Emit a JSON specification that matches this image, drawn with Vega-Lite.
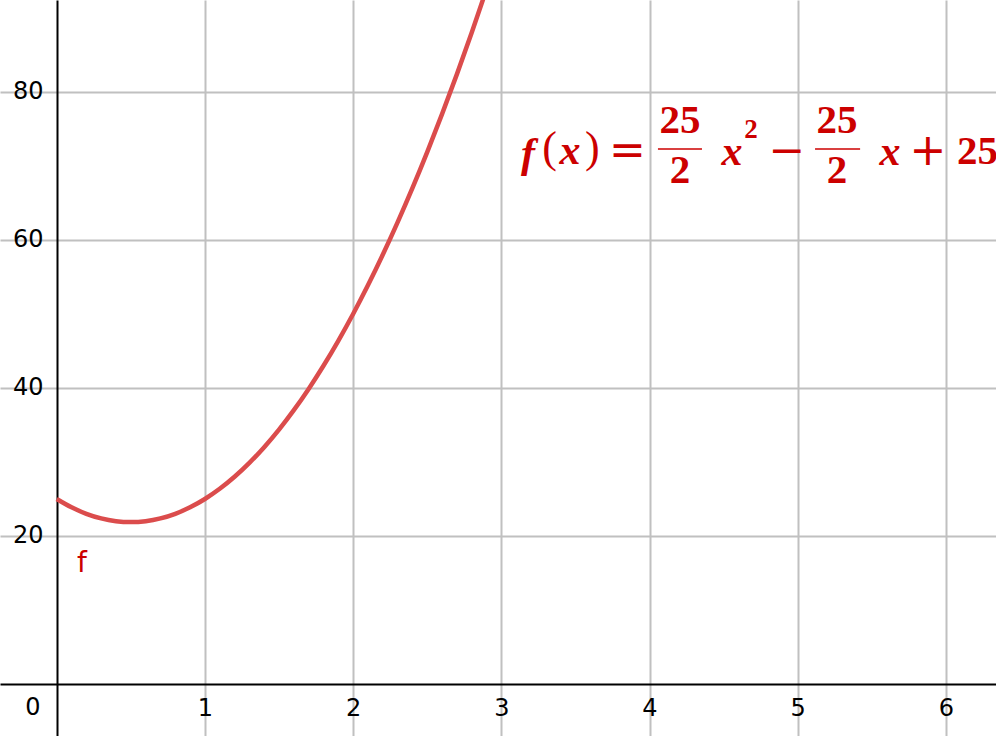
{
  "$schema": "https://vega.github.io/schema/vega-lite/v6.json",
  "width": 996,
  "height": 736,
  "autosize": {"type": "none"},
  "padding": 0,
  "background": "white",
  "config": {"view": {"stroke": null}},
  "datasets": {
    "curve": [
      {"x": 0.0, "y": 25}, {"x": 0.1, "y": 23.875}, {"x": 0.2, "y": 23}, {"x": 0.3, "y": 22.375},
      {"x": 0.4, "y": 22}, {"x": 0.5, "y": 21.875}, {"x": 0.6, "y": 22}, {"x": 0.7, "y": 22.375},
      {"x": 0.8, "y": 23}, {"x": 0.9, "y": 23.875}, {"x": 1.0, "y": 25}, {"x": 1.1, "y": 26.375},
      {"x": 1.2, "y": 28}, {"x": 1.3, "y": 29.875}, {"x": 1.4, "y": 32}, {"x": 1.5, "y": 34.375},
      {"x": 1.6, "y": 37}, {"x": 1.7, "y": 39.875}, {"x": 1.8, "y": 43}, {"x": 1.9, "y": 46.375},
      {"x": 2.0, "y": 50}, {"x": 2.1, "y": 53.875}, {"x": 2.2, "y": 58}, {"x": 2.3, "y": 62.375},
      {"x": 2.4, "y": 67}, {"x": 2.5, "y": 71.875}, {"x": 2.6, "y": 77}, {"x": 2.7, "y": 82.375},
      {"x": 2.8, "y": 88}, {"x": 2.9, "y": 93.875}, {"x": 3.0, "y": 100}
    ]
  },
  "layer": [
    {
      "data": {"name": "curve"},
      "mark": {"type": "line", "color": "#db4c4c", "strokeWidth": 4.5, "interpolate": "monotone", "clip": true},
      "encoding": {
        "x": {
          "field": "x", "type": "quantitative",
          "scale": {"domain": [-0.3826, 6.338], "nice": false, "zero": false},
          "axis": {
            "orient": "bottom", "offset": -52, "values": [1, 2, 3, 4, 5, 6], "format": "d", "title": null,
            "grid": true, "gridColor": "#c0c0c0", "gridWidth": 2,
            "domain": true, "domainColor": "#000000", "domainWidth": 2,
            "ticks": false, "labelPadding": 12, "labelFont": "DejaVu Sans", "labelFontSize": 24,
            "labelColor": "#000000", "labelFlush": false
          }
        },
        "y": {
          "field": "y", "type": "quantitative",
          "scale": {"domain": [-7.027, 92.43], "nice": false, "zero": false},
          "axis": {
            "orient": "left", "offset": -57, "values": [20, 40, 60, 80], "format": "d", "title": null,
            "grid": true, "gridColor": "#c0c0c0", "gridWidth": 2,
            "domain": true, "domainColor": "#000000", "domainWidth": 2,
            "ticks": false, "labelPadding": 14, "labelFont": "DejaVu Sans", "labelFontSize": 24,
            "labelColor": "#000000", "labelFlush": false
          }
        }
      }
    },
    {
      "data": {"values": [{"t": "0", "x": -0.16, "y": -3.24}]},
      "mark": {"type": "text", "font": "DejaVu Sans", "fontSize": 24, "color": "#000000", "align": "center", "baseline": "middle"},
      "encoding": {"x": {"field": "x", "type": "quantitative"}, "y": {"field": "y", "type": "quantitative"}, "text": {"field": "t"}}
    },
    {
      "data": {"values": [{"t": "f", "x": 0.171, "y": 16.2}]},
      "mark": {"type": "text", "font": "DejaVu Sans", "fontSize": 28, "color": "#cc0000", "align": "center", "baseline": "middle"},
      "encoding": {"x": {"field": "x", "type": "quantitative"}, "y": {"field": "y", "type": "quantitative"}, "text": {"field": "t"}}
    },
    {
      "data": {"values": [
        {"t": "f", "x": 3.18, "y": 71.6},
        {"t": "x", "x": 3.464, "y": 72.0},
        {"t": "x", "x": 4.557, "y": 71.9},
        {"t": "x", "x": 5.623, "y": 71.9}
      ]},
      "mark": {"type": "text", "font": "Liberation Serif", "fontStyle": "italic", "fontWeight": "bold", "fontSize": 42, "color": "#cc0000", "align": "center", "baseline": "middle"},
      "encoding": {"x": {"field": "x", "type": "quantitative"}, "y": {"field": "y", "type": "quantitative"}, "text": {"field": "t"}}
    },
    {
      "data": {"values": [
        {"t": "(", "x": 3.325, "y": 72.3},
        {"t": ")", "x": 3.615, "y": 72.3}
      ]},
      "mark": {"type": "text", "font": "Liberation Serif", "fontSize": 44, "color": "#cc0000", "align": "center", "baseline": "middle"},
      "encoding": {"x": {"field": "x", "type": "quantitative"}, "y": {"field": "y", "type": "quantitative"}, "text": {"field": "t"}}
    },
    {
      "data": {"values": [
        {"t": "25", "x": 4.206, "y": 76.1},
        {"t": "2", "x": 4.206, "y": 69.3},
        {"t": "25", "x": 5.265, "y": 76.1},
        {"t": "2", "x": 5.265, "y": 69.3}
      ]},
      "mark": {"type": "text", "font": "Liberation Serif", "fontWeight": "bold", "fontSize": 41, "color": "#cc0000", "align": "center", "baseline": "middle"},
      "encoding": {"x": {"field": "x", "type": "quantitative"}, "y": {"field": "y", "type": "quantitative"}, "text": {"field": "t"}}
    },
    {
      "data": {"values": [{"t": "25", "x": 6.075, "y": 71.9}]},
      "mark": {"type": "text", "font": "Liberation Serif", "fontWeight": "bold", "fontSize": 41, "color": "#cc0000", "align": "left", "baseline": "middle"},
      "encoding": {"x": {"field": "x", "type": "quantitative"}, "y": {"field": "y", "type": "quantitative"}, "text": {"field": "t"}}
    },
    {
      "data": {"values": [
        {"t": "=", "x": 3.851, "y": 71.9},
        {"t": "−", "x": 4.928, "y": 71.9},
        {"t": "+", "x": 5.879, "y": 71.9}
      ]},
      "mark": {"type": "text", "font": "DejaVu Sans", "fontSize": 44, "color": "#cc0000", "align": "center", "baseline": "middle"},
      "encoding": {"x": {"field": "x", "type": "quantitative"}, "y": {"field": "y", "type": "quantitative"}, "text": {"field": "t"}}
    },
    {
      "data": {"values": [{"t": "2", "x": 4.685, "y": 74.8}]},
      "mark": {"type": "text", "font": "Liberation Serif", "fontWeight": "bold", "fontSize": 27, "color": "#cc0000", "align": "center", "baseline": "middle"},
      "encoding": {"x": {"field": "x", "type": "quantitative"}, "y": {"field": "y", "type": "quantitative"}, "text": {"field": "t"}}
    },
    {
      "data": {"values": [
        {"x": 4.057, "x2": 4.354, "y": 72.3},
        {"x": 5.117, "x2": 5.421, "y": 72.3}
      ]},
      "mark": {"type": "rule", "color": "#cc0000", "strokeWidth": 1.5},
      "encoding": {"x": {"field": "x", "type": "quantitative"}, "x2": {"field": "x2"}, "y": {"field": "y", "type": "quantitative"}}
    }
  ]
}
